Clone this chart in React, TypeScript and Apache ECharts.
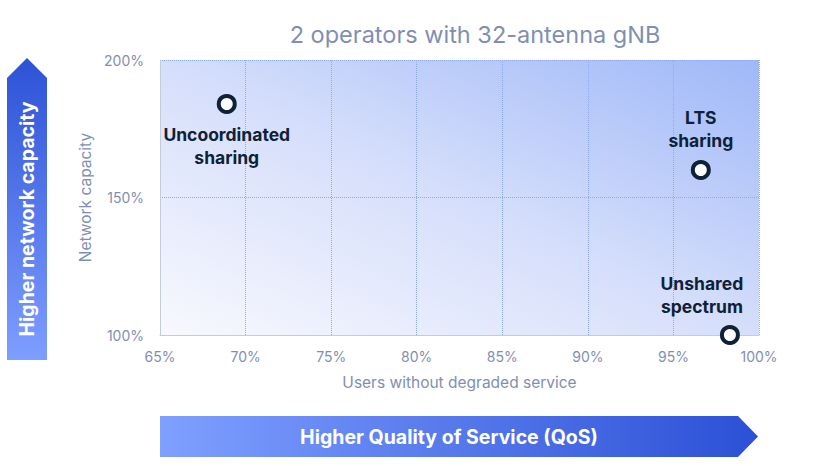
import { useEffect, useRef } from 'react';
import * as echarts from 'echarts';

// scenario points
const scenarioNames = ['Uncoordinated\nsharing', 'LTS\nsharing', 'Unshared\nspectrum'];
const usersWithoutDegraded = [68.9, 96.6, 98.3];
const networkCapacity = [184, 160, 100];

const FONT = 'Inter, "Noto Sans", sans-serif';
const TEXT_GREY = '#7f8fb1';
const NAVY = '#0e2136';

const App = () => {
  const chartRef = useRef<HTMLDivElement>(null);

  useEffect(() => {
    if (!chartRef.current) return;
    const chart = echarts.init(chartRef.current, null, { renderer: 'svg' });

    const labelPlacement = [
      { position: 'bottom', distance: 9, offset: [0, 0] },
      { position: 'top', distance: 8, offset: [0, 0] },
      { position: 'top', distance: 7, offset: [-28, 0] }
    ];

    const options: echarts.EChartsOption = {
      animation: false,
      backgroundColor: '#ffffff',
      textStyle: { fontFamily: FONT },
      title: {
        text: '2 operators with 32-antenna gNB',
        left: 470,
        top: 17,
        textAlign: 'center',
        textStyle: {
          fontFamily: FONT,
          fontSize: 23.5,
          fontWeight: 'normal',
          color: TEXT_GREY
        }
      },
      grid: {
        left: 160,
        right: 55,
        top: 60,
        bottom: 131,
        show: true,
        borderWidth: 0,
        backgroundColor: new echarts.graphic.LinearGradient(0, 1, 1, 0, [
          { offset: 0, color: '#f8f9fe' },
          { offset: 0.5, color: '#d5defb' },
          { offset: 1, color: '#9fb8f8' }
        ])
      },
      xAxis: {
        type: 'value',
        min: 65,
        max: 100,
        interval: 5,
        name: 'Users without degraded service',
        nameLocation: 'middle',
        nameGap: 39,
        nameTextStyle: { fontFamily: FONT, fontSize: 15.5, color: TEXT_GREY },
        axisLine: { show: true, lineStyle: { color: '#c3cbdd', width: 1 } },
        axisTick: { show: false },
        axisLabel: {
          formatter: '{value}%',
          margin: 14,
          fontFamily: FONT,
          fontSize: 14,
          color: TEXT_GREY
        },
        splitLine: {
          show: true,
          lineStyle: { color: '#8eaaf3', type: 'dotted', width: 1 }
        }
      },
      yAxis: {
        type: 'value',
        min: 100,
        max: 200,
        interval: 50,
        name: 'Network capacity',
        nameLocation: 'middle',
        nameGap: 64,
        nameTextStyle: { fontFamily: FONT, fontSize: 15.5, color: TEXT_GREY },
        axisLine: { show: true, lineStyle: { color: '#c3cbdd', width: 1 } },
        axisTick: { show: false },
        axisLabel: {
          formatter: '{value}%',
          margin: 16,
          fontFamily: FONT,
          fontSize: 14,
          color: TEXT_GREY
        },
        splitLine: {
          show: true,
          lineStyle: { color: '#8eaaf3', type: 'dotted', width: 1 }
        }
      },
      series: [
        {
          type: 'scatter',
          symbol: 'circle',
          symbolSize: 16,
          itemStyle: { color: '#ffffff', borderColor: NAVY, borderWidth: 4, opacity: 1 },
          data: scenarioNames.map((name, i) => ({
            name,
            value: [usersWithoutDegraded[i], networkCapacity[i]],
            label: {
              show: true,
              formatter: name,
              position: labelPlacement[i].position as any,
              distance: labelPlacement[i].distance,
              offset: labelPlacement[i].offset,
              align: 'center',
              fontFamily: FONT,
              fontSize: 17.5,
              fontWeight: 'bold',
              lineHeight: 23,
              color: NAVY
            }
          })),
          z: 5
        }
      ],
      graphic: [
        {
          type: 'polygon',
          shape: { points: [[7, 78], [27, 58], [47, 78], [47, 360], [7, 360]] },
          style: {
            fill: new echarts.graphic.LinearGradient(0, 0, 0, 1, [
              { offset: 0, color: '#2d52d6' },
              { offset: 1, color: '#7e9eff' }
            ])
          }
        },
        {
          type: 'text',
          x: 27,
          y: 219,
          rotation: Math.PI / 2,
          style: {
            text: 'Higher network capacity',
            fill: '#ffffff',
            fontFamily: FONT,
            fontSize: 19.5,
            fontWeight: 'bold',
            align: 'center',
            verticalAlign: 'middle'
          }
        },
        {
          type: 'polygon',
          shape: { points: [[160, 416], [738, 416], [758, 436.5], [738, 457], [160, 457]] },
          style: {
            fill: new echarts.graphic.LinearGradient(0, 0, 1, 0, [
              { offset: 0, color: '#7fa0ff' },
              { offset: 1, color: '#2c50d6' }
            ])
          }
        },
        {
          type: 'text',
          x: 449,
          y: 437,
          style: {
            text: 'Higher Quality of Service (QoS)',
            fill: '#ffffff',
            fontFamily: FONT,
            fontSize: 19.5,
            fontWeight: 'bold',
            align: 'center',
            verticalAlign: 'middle'
          }
        }
      ]
    };

    chart.setOption(options);

    return () => {
      chart.dispose();
    };
  }, []);

  return (
    <div
      ref={chartRef}
      style={{
        position: 'fixed',
        left: 0,
        top: 0,
        width: '814px',
        height: '466px',
        backgroundColor: '#ffffff'
      }}
    />
  );
};

export default App;
